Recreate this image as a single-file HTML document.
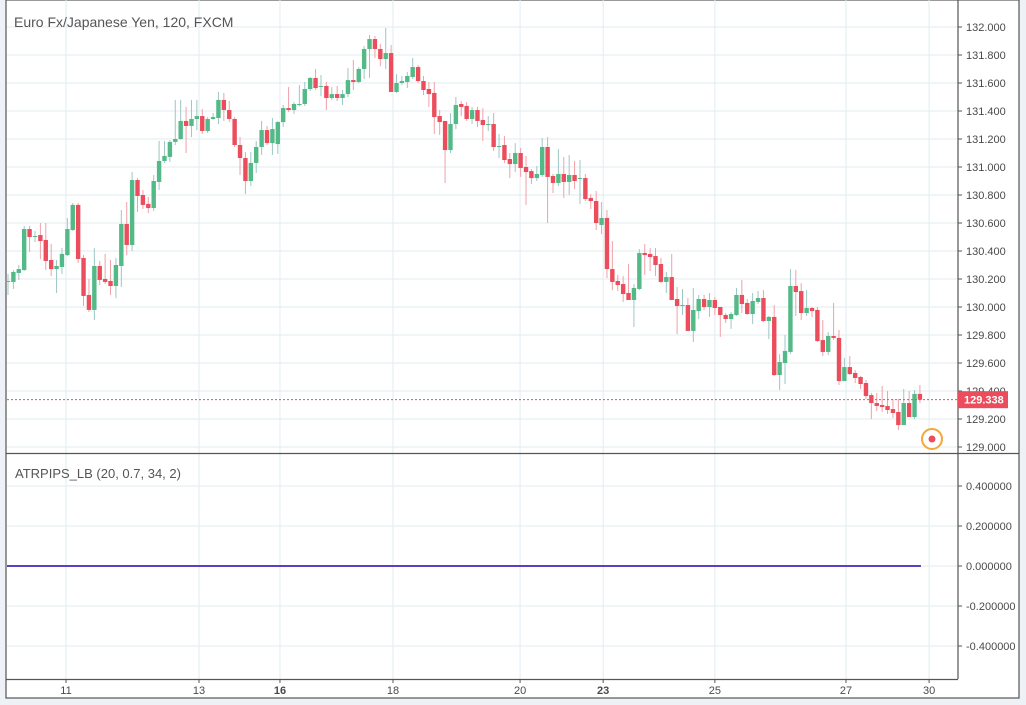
<!DOCTYPE html>
<html><head><meta charset="utf-8"><style>
body{margin:0;background:#eef1f5;width:1026px;height:705px;overflow:hidden;font-family:"Liberation Sans",sans-serif}
svg{display:block}
</style></head><body>
<svg id="c" width="1026" height="705">
<rect x="6" y="0" width="1013" height="698" fill="#fff" stroke="#555" stroke-width="1.2"/>
<g id="grid"></g>
<g id="cndl"></g>
<g id="ind"></g>
<line x1="6" y1="453.5" x2="1019" y2="453.5" stroke="#555" stroke-width="1.2"/>
<line x1="958" y1="0" x2="958" y2="679" stroke="#555" stroke-width="1.2"/>
<line x1="6" y1="679.5" x2="958" y2="679.5" stroke="#555" stroke-width="1.2"/>
<g id="axes" font-size="11" fill="#4a4a4a"></g>
<text x="14" y="27" font-size="14" fill="#555">Euro Fx/Japanese Yen, 120, FXCM</text>
<text x="15" y="478" font-size="13" fill="#555">ATRPIPS_LB (20, 0.7, 34, 2)</text>
<circle cx="932" cy="439" r="10" fill="#fff" stroke="#f5a53a" stroke-width="2"/>
<circle cx="932" cy="439" r="3.5" fill="#eb4d5c"/>
</svg>
<script>
const opens=[130.186,130.179,130.243,130.264,130.557,130.507,130.514,130.479,130.336,130.271,130.286,130.371,130.550,130.729,130.350,130.086,129.979,130.293,130.200,130.186,130.150,130.293,130.593,130.443,130.907,130.800,130.736,130.707,130.893,131.043,131.072,131.179,131.200,131.329,131.293,131.343,131.364,131.257,131.343,131.350,131.479,131.407,131.343,131.157,131.064,130.900,131.029,131.143,131.264,131.171,131.164,131.321,131.421,131.407,131.450,131.450,131.557,131.636,131.579,131.579,131.493,131.521,131.493,131.521,131.621,131.607,131.700,131.843,131.914,131.843,131.771,131.814,131.536,131.600,131.607,131.643,131.714,131.614,131.557,131.529,131.364,131.329,131.121,131.307,131.450,131.436,131.343,131.407,131.336,131.307,131.307,131.150,131.157,131.057,131.021,131.100,131.000,130.971,130.921,130.943,131.143,130.936,130.886,130.950,130.893,130.943,130.921,130.921,130.779,130.757,130.586,130.636,130.271,130.186,130.164,130.100,130.050,130.129,130.386,130.379,130.364,130.307,130.179,130.214,130.057,130.014,130.014,129.829,129.971,130.057,130.000,130.050,130.000,129.943,129.914,129.943,130.086,130.029,129.950,130.036,130.064,129.900,129.929,129.514,129.600,129.679,130.150,130.114,129.957,129.993,129.979,129.764,129.679,129.793,129.779,129.471,129.571,129.529,129.500,129.457,129.371,129.314,129.300,129.293,129.271,129.250,129.157,129.314,129.214,129.379];
const highs=[130.236,130.264,130.300,130.579,130.579,130.543,130.600,130.600,130.450,130.336,130.421,130.636,130.743,130.743,130.371,130.200,130.421,130.329,130.379,130.336,130.350,130.693,130.750,130.964,130.921,130.836,130.786,130.943,131.186,131.186,131.193,131.479,131.479,131.429,131.479,131.479,131.414,131.357,131.386,131.536,131.529,131.471,131.357,131.214,131.107,131.107,131.186,131.329,131.293,131.350,131.329,131.443,131.571,131.464,131.586,131.607,131.643,131.700,131.657,131.607,131.571,131.579,131.550,131.707,131.764,131.714,131.864,131.943,131.936,131.879,131.993,131.871,131.664,131.650,131.679,131.779,131.729,131.650,131.607,131.607,131.407,131.329,131.386,131.500,131.471,131.464,131.429,131.429,131.421,131.364,131.386,131.236,131.221,131.100,131.171,131.136,131.079,130.986,131.007,131.207,131.214,130.950,131.129,131.071,131.086,131.043,131.050,130.950,130.807,130.829,130.750,130.693,130.471,130.229,130.221,130.307,130.164,130.414,130.450,130.421,130.421,130.350,130.250,130.379,130.143,130.129,130.064,130.136,130.086,130.086,130.100,130.071,129.993,129.957,129.964,130.136,130.193,130.057,130.100,130.114,130.121,129.936,130.014,129.664,129.800,130.271,130.264,130.171,130.121,130.000,130.000,129.907,129.821,130.029,129.836,129.636,129.650,129.550,129.507,129.479,129.386,129.386,129.436,129.400,129.343,129.343,129.414,129.400,129.407,129.443];
const lows=[130.086,130.129,130.193,130.257,130.393,130.464,130.343,130.264,130.221,130.100,130.236,130.364,130.543,130.314,130.007,129.964,129.907,130.157,130.164,130.086,130.064,130.143,130.371,130.400,130.679,130.700,130.671,130.686,130.836,131.029,131.036,131.157,131.193,131.100,131.214,131.264,131.236,131.243,131.336,131.307,131.329,131.321,131.143,130.943,130.807,130.864,130.957,131.086,131.157,131.086,131.093,131.286,131.393,131.379,131.436,131.436,131.543,131.550,131.507,131.407,131.479,131.471,131.443,131.500,131.550,131.600,131.629,131.636,131.779,131.721,131.700,131.536,131.529,131.586,131.564,131.629,131.600,131.514,131.429,131.236,131.229,130.886,131.100,131.271,131.364,131.329,131.307,131.286,131.186,131.257,131.114,131.064,131.029,130.921,130.964,130.929,130.729,130.879,130.900,130.929,130.600,130.814,130.864,130.779,130.800,130.843,130.736,130.757,130.700,130.550,130.521,130.207,130.121,130.114,130.036,130.050,129.857,130.121,130.229,130.257,130.221,130.171,130.100,130.050,129.807,129.943,129.829,129.750,129.914,129.979,129.929,129.943,129.786,129.886,129.843,129.936,129.957,129.943,129.879,130.021,129.893,129.771,129.507,129.407,129.450,129.664,129.936,129.907,129.936,129.929,129.750,129.650,129.657,129.764,129.443,129.471,129.514,129.457,129.414,129.343,129.200,129.257,129.250,129.236,129.207,129.121,129.157,129.214,129.200,129.314];
const closes=[130.186,130.250,130.271,130.557,130.500,130.507,130.471,130.329,130.271,130.293,130.379,130.557,130.729,130.343,130.079,129.979,130.293,130.193,130.179,130.150,130.300,130.593,130.443,130.907,130.793,130.729,130.707,130.900,131.043,131.079,131.179,131.200,131.329,131.293,131.343,131.364,131.257,131.343,131.357,131.479,131.407,131.343,131.157,131.064,130.900,131.029,131.143,131.264,131.171,131.271,131.321,131.421,131.407,131.450,131.450,131.557,131.636,131.564,131.579,131.493,131.521,131.493,131.521,131.621,131.607,131.700,131.843,131.914,131.843,131.771,131.814,131.536,131.600,131.614,131.650,131.714,131.614,131.550,131.521,131.357,131.321,131.121,131.307,131.443,131.429,131.343,131.407,131.329,131.300,131.307,131.143,131.150,131.050,131.021,131.100,130.993,130.964,130.921,130.950,131.143,130.929,130.886,130.950,130.893,130.943,130.900,130.921,130.771,130.757,130.600,130.636,130.271,130.179,130.157,130.093,130.050,130.136,130.386,130.371,130.357,130.300,130.179,130.214,130.050,130.007,130.014,129.829,129.979,130.057,130.000,130.050,129.993,129.943,129.914,129.950,130.086,130.021,129.950,130.043,130.064,129.900,129.929,129.514,129.607,129.686,130.150,130.107,129.957,129.993,129.971,129.757,129.679,129.793,129.779,129.471,129.571,129.521,129.493,129.450,129.364,129.314,129.293,129.286,129.264,129.243,129.157,129.314,129.214,129.379,129.338];
const priceTicks=[132.0,131.8,131.6,131.4,131.2,131.0,130.8,130.6,130.4,130.2,130.0,129.8,129.6,129.4,129.2,129.0];
const indTicks=[0.4,0.2,0.0,-0.2,-0.4];
const indValues=[0.0];
const dayLabels=["11","13","16","18","20","23","25","27","30"];
const dayIndex=[11.75,36.4,51.4,72.35,95.9,111.3,132,156.3,171.7];
const boldDays=["16","23"];

const NS="http://www.w3.org/2000/svg";
const py=v=>447-(v-129)*140;
const iy=v=>566-v*200;
const xi=i=>8+i*5.396;
function mk(tag,attrs,parent){const e=document.createElementNS(NS,tag);for(const k in attrs)e.setAttribute(k,attrs[k]);parent.appendChild(e);return e;}
const grid=document.getElementById('grid'),cg=document.getElementById('cndl'),ax=document.getElementById('axes'),ind=document.getElementById('ind');
priceTicks.forEach(t=>{
  const y=py(t);
  const g=mk('line',{x1:7,x2:958,y1:y,y2:y,stroke:'#e1ecf2','stroke-width':1},grid);
  
  
  mk('line',{x1:958,x2:962,y1:y,y2:y,stroke:'#555'},ax);
  const tx=mk('text',{x:966,y:y+4},ax);tx.textContent=t.toFixed(3);
  
  
});
indTicks.forEach(t=>{
  const y=iy(t);
  const g=mk('line',{x1:7,x2:958,y1:y,y2:y,stroke:'#e1ecf2','stroke-width':1},grid);
  
  
  mk('line',{x1:958,x2:962,y1:y,y2:y,stroke:'#555'},ax);
  const tx=mk('text',{x:966,y:y+4},ax);tx.textContent=t.toFixed(6);
  
  
});
dayLabels.forEach((d,k)=>{
  const x=xi(dayIndex[k]-1);
  const g=mk('line',{x1:x,x2:x,y1:0,y2:679,stroke:'#e1ecf2','stroke-width':1},grid);
  
  
  mk('line',{x1:x,x2:x,y1:679,y2:683,stroke:'#555'},ax);
  const tx=mk('text',{x:x,y:694,'text-anchor':'middle','font-weight':boldDays.includes(d)?'bold':'normal'},ax);tx.textContent=d;
  
  
});
closes.forEach((c,i)=>{
  const o=opens[i],up=c>=o,x=xi(i);
  const col=up?'#53b987':'#eb4d5c',wcol=up?'#9cc7c4':'#f0a0a8';
  const w=mk('line',{x1:x,x2:x,y1:py(highs[i]),y2:py(lows[i]),stroke:wcol,'stroke-width':1},cg);
  
  
  const top=Math.min(py(o),py(c)),h=Math.max(1,Math.abs(py(o)-py(c)));
  const b=mk('rect',{x:x-2.2,y:top,width:4.4,height:h,fill:col},cg);
  
  
});
const last=closes[closes.length-1];
const ly=py(last);
const dl=mk('line',{x1:7,x2:958,y1:ly,y2:ly,stroke:'#eb4d5c','stroke-width':1,'stroke-dasharray':'2,2'},cg);


const lb=mk('rect',{x:958,y:ly-8.5,width:50,height:17,fill:'#eb4d5c'},ax);


const lt=mk('text',{x:964,y:ly+4,fill:'#fff','font-weight':'bold'},ax);lt.textContent=last.toFixed(3);


const zl=mk('line',{x1:7,x2:xi(closes.length-1)+1,y1:iy(indValues[0]),y2:iy(indValues[0]),stroke:'#5b3fc4','stroke-width':2},ind);


</script>
</body></html>
